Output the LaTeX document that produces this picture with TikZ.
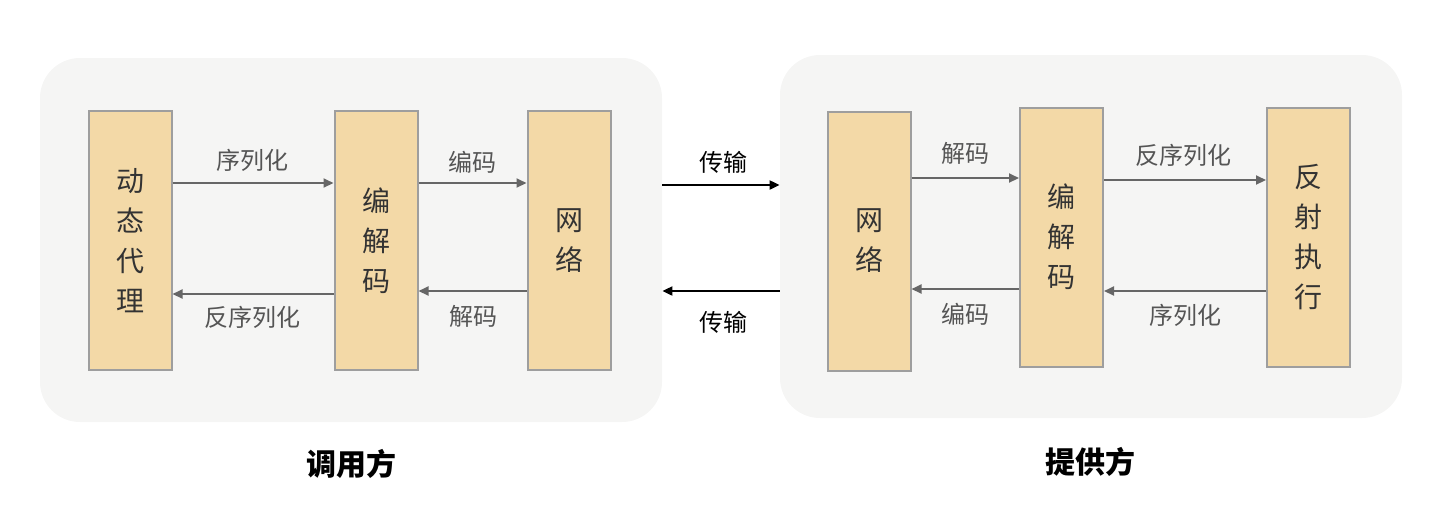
\documentclass[tikz,border=0pt]{standalone}
\usepackage{fontspec}
\setmainfont{Noto Sans CJK SC}
\usepackage{tikz}
\usetikzlibrary{arrows.meta}
\definecolor{panelgray}{HTML}{F5F5F4}
\definecolor{stagefill}{HTML}{F3D9A7}
\definecolor{edgegray}{HTML}{9E9E9E}
\definecolor{arrowgray}{HTML}{666666}
\definecolor{labelgray}{HTML}{555555}
\definecolor{inkdark}{HTML}{333333}
\tikzset{
  panel/.style={fill=panelgray, draw=none, rounded corners=20pt, inner sep=0pt},
  stage/.style={draw=edgegray, line width=1pt, fill=stagefill, minimum width=41.5pt,
    minimum height=129.5pt, inner sep=0pt, align=center, text=inkdark,
    font=\fontsize{14}{20}\selectfont},
  flow/.style={draw=arrowgray, line width=1pt, -{Triangle[length=5pt,width=4.5pt]}},
  wire/.style={draw=black, line width=1pt, -{Triangle[length=5pt,width=4.5pt]}},
  tag/.style={text=labelgray, inner sep=0pt, font=\fontsize{12}{12}\selectfont},
  side/.style={inner sep=0pt, font=\fontsize{15}{15}\selectfont\bfseries}
}
\begin{document}
\begin{tikzpicture}[x=0.5pt,y=0.5pt,yscale=-1]
\useasboundingbox (0,0) rectangle (1440,516);

%Panels
\node[panel, minimum width=311pt, minimum height=182pt] (caller) at (351,240) {};
\node[panel, minimum width=311pt, minimum height=181.5pt] (provider) at (1091,236.5) {};

%Caller side
\node[stage] (proxy) at (130,240.5) {动\\态\\代\\理};
\node[stage] (codecL) at (376,240.5) {编\\解\\码};
\node[stage] (netL) at (569,240.5) {网\\络};

\draw[flow] (proxy.east |- 0,183) -- (codecL.west |- 0,183);
\draw[flow] (codecL.west |- 0,294) -- (proxy.east |- 0,294);
\draw[flow] (codecL.east |- 0,183) -- (netL.west |- 0,183);
\draw[flow] (netL.west |- 0,291) -- (codecL.east |- 0,291);

\node[tag] (serL) at (252,160) {序列化};
\node[tag] (deserL) at (252,317) {反序列化};
\node[tag] (encL) at (472,162) {编码};
\node[tag] (decL) at (473,316) {解码};

%Provider side
\node[stage] (netR) at (869,241) {网\\络};
\node[stage] (codecR) at (1061.5,237) {编\\解\\码};
\node[stage] (reflect) at (1308.5,237) {反\\射\\执\\行};

\draw[flow] (netR.east |- 0,178) -- (codecR.west |- 0,178);
\draw[flow] (codecR.east |- 0,180) -- (reflect.west |- 0,180);
\draw[flow] (codecR.west |- 0,289) -- (netR.east |- 0,289);
\draw[flow] (reflect.west |- 0,291) -- (codecR.east |- 0,291);

\node[tag] (decR) at (965,153) {解码};
\node[tag] (deserR) at (1183,155) {反序列化};
\node[tag] (encR) at (965,314) {编码};
\node[tag] (serR) at (1185,315) {序列化};

%Transfer
\draw[wire] (caller.east |- 0,185) -- (provider.west |- 0,185);
\draw[wire] (provider.west |- 0,291) -- (caller.east |- 0,291);
\node[inner sep=0pt, font=\fontsize{12}{12}\selectfont] (sendTop) at (723,162) {传输};
\node[inner sep=0pt, font=\fontsize{12}{12}\selectfont] (sendBot) at (723,322) {传输};

%Names
\node[side] (callerName) at (351,464) {调用方};
\node[side] (providerName) at (1090,462) {提供方};

\end{tikzpicture}
\end{document}
